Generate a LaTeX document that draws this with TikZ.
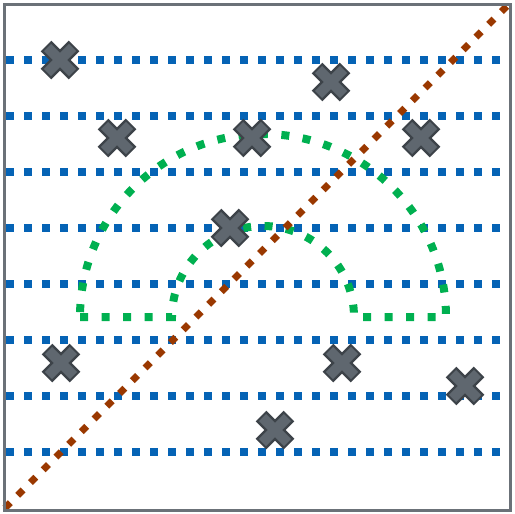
\documentclass[tikz,border=0pt]{standalone}
\usepackage{tikz}
\usepackage{xcolor}

\definecolor{linhaazul}{HTML}{0563B5}
\definecolor{arcoverde}{HTML}{00B050}
\definecolor{diagmarrom}{HTML}{9A3800}
\definecolor{moldura}{HTML}{6B7178}
\definecolor{xcinza}{HTML}{5F676F}
\definecolor{xborda}{HTML}{3D4349}

\tikzset{
  azul/.style={draw=linhaazul, line width=8.5pt, dash pattern=on 8pt off 10pt},
  verde/.style={draw=arcoverde, line width=8pt, dash pattern=on 8pt off 13.5pt},
  marrom/.style={draw=diagmarrom, line width=7pt, dash pattern=on 7.5pt off 10.5pt},
  pics/xmark/.style={code={
    \draw[xborda, line width=15pt] (-14,-14) -- (14,14) (-14,14) -- (14,-14);
    \draw[xcinza, line width=10pt] (-12.5,-12.5) -- (12.5,12.5) (-12.5,12.5) -- (12.5,-12.5);
  }}
}

\begin{document}
\begin{tikzpicture}[x=1pt, y=-1pt]
        \useasboundingbox (0,0) rectangle (515,514);

        % Linhas horizontais
        \draw[azul] (6,60) -- (512,60);
        \draw[azul] (6,116) -- (512,116);
        \draw[azul] (6,172) -- (512,172);
        \draw[azul] (6,228) -- (512,228);
        \draw[azul] (6,284) -- (512,284);
        \draw[azul] (6,340) -- (512,340);
        \draw[azul] (6,396) -- (512,396);
        \draw[azul] (6,452) -- (512,452);

        % Semi-anel
        \draw[verde] (80,317) -- (172,317) arc[start angle=180, end angle=360, radius=91]
          -- (446,317) arc[start angle=0, end angle=-180, radius=183];

        % Diagonal
        \coordinate (inicio) at (5,508);
        \coordinate (fim) at (508,5);
        \draw[marrom] (inicio) -- (fim);

        % Cruzes
        \pic (x1) at (60,60) {xmark};
        \pic (x2) at (331,82) {xmark};
        \pic (x3) at (117,138) {xmark};
        \pic (x4) at (252,138) {xmark};
        \pic (x5) at (421,138) {xmark};
        \pic (x6) at (230,228) {xmark};
        \pic (x7) at (61,363) {xmark};
        \pic (x8) at (342,363) {xmark};
        \pic (x9) at (465,386) {xmark};
        \pic (x10) at (275,430) {xmark};

        % Moldura
        \draw[moldura, line width=3pt] (4,4) rectangle (510,510);
    \end{tikzpicture}
\end{document}
